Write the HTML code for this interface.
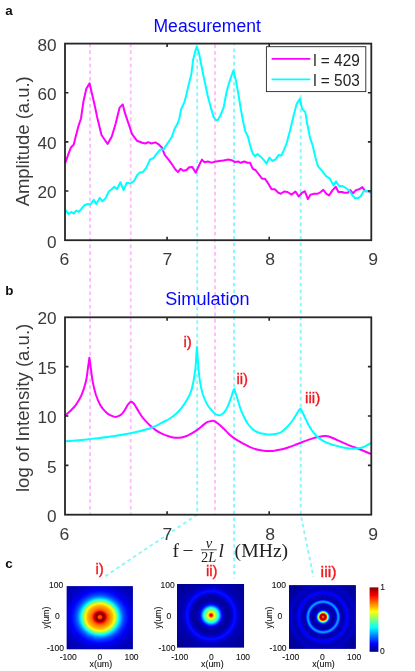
<!DOCTYPE html>
<html><head><meta charset="utf-8"><title>Figure</title>
<style>html,body{margin:0;padding:0;background:#fff}svg{display:block}</style>
</head><body>
<svg width="415" height="671" viewBox="0 0 415 671">
<rect width="415" height="671" fill="#fff"/>
<line x1="90.1" y1="43.6" x2="90.1" y2="514.7" stroke-dashoffset="0" stroke="#ffb9fc" stroke-width="1.8" stroke-dasharray="3.6 3.1" fill="none"/>
<line x1="130.7" y1="43.6" x2="130.7" y2="514.7" stroke-dashoffset="0" stroke="#ffb9fc" stroke-width="1.8" stroke-dasharray="3.6 3.1" fill="none"/>
<line x1="215.0" y1="43.6" x2="215.0" y2="514.7" stroke-dashoffset="-0.8" stroke="#ffb9fc" stroke-width="1.8" stroke-dasharray="3.6 3.1" fill="none"/>
<polyline points="197.2,43.6 197.2,514.7 104,577" stroke="#86f6f9" stroke-width="1.8" stroke-dasharray="3.6 3.1" stroke-dashoffset="4.8" fill="none"/>
<polyline points="234.1,43.6 234.1,514.7 234.3,578.6" stroke="#86f6f9" stroke-width="1.8" stroke-dasharray="3.6 3.1" stroke-dashoffset="1.9" fill="none"/>
<polyline points="300.7,93.2 300.7,514.7 313.4,577" stroke="#86f6f9" stroke-width="1.8" stroke-dasharray="3.6 3.1" stroke-dashoffset="4.6" fill="none"/>
<polyline points="65.3,162.8 69.0,152.3 71.1,147.2 73.7,144.8 75.2,138.6 78.4,126.3 81.0,118.5 83.4,101.7 86.3,88.7 89.6,83.4 92.8,97.3 95.0,106.7 97.1,116.9 101.5,135.0 107.6,144.0 111.7,136.7 115.7,123.5 119.6,107.6 122.8,104.4 124.9,112.9 128.9,124.8 132.1,134.1 136.9,140.7 142.2,142.8 145.3,143.5 148.3,142.2 151.4,143.5 155.4,142.4 158.6,144.3 162.0,147.7 164.7,154.9 168.0,158.9 171.9,164.2 175.4,169.5 178.0,172.1 180.7,168.7 183.3,170.8 186.5,170.0 189.2,167.3 192.3,167.1 195.8,172.6 199.0,165.5 201.9,159.6 204.5,162.3 207.7,161.5 211.7,162.6 215.7,161.5 219.6,161.0 223.6,160.4 228.4,159.6 231.6,160.2 235.0,162.0 238.2,161.5 240.8,162.8 244.3,161.5 247.5,162.8 250.1,162.8 252.8,168.9 255.4,170.0 258.6,174.0 262.0,178.7 264.7,178.7 267.7,182.7 271.6,189.3 274.8,189.3 278.3,192.8 280.9,193.8 284.1,191.5 287.5,192.0 291.5,194.6 295.5,191.5 298.7,196.5 302.1,192.8 304.8,191.2 307.9,199.1 310.6,194.6 314.0,193.8 317.5,193.8 320.7,192.0 323.3,189.9 326.5,193.8 329.1,195.4 332.6,190.1 335.8,186.7 338.4,192.0 341.9,192.0 344.5,192.8 347.7,192.8 350.3,190.1 353.0,193.3 355.9,190.1 359.1,189.3 362.3,187.2 365.2,191.2 368.4,191.2 371.0,192.8" fill="none" stroke="#ff00ff" stroke-width="2" stroke-linejoin="round"/>
<polyline points="65.3,210.0 68.7,214.0 71.1,211.9 73.8,213.5 76.4,210.5 78.6,211.9 81.2,209.2 84.4,205.2 87.8,203.9 90.5,204.4 93.7,199.9 96.3,203.9 99.8,197.8 102.4,201.3 105.6,198.1 109.0,191.2 111.7,189.3 114.3,186.7 117.0,189.3 120.4,182.2 123.6,190.1 126.8,182.7 130.2,183.5 133.7,181.4 137.4,174.8 140.0,172.6 142.7,172.1 146.1,168.1 150.1,159.4 153.3,158.3 156.7,153.6 160.2,149.6 163.4,149.6 166.0,145.6 169.3,140.7 171.9,136.7 174.6,128.8 177.2,124.3 179.1,119.5 181.2,108.9 184.4,102.3 186.5,94.3 189.2,82.4 191.3,74.5 193.1,59.9 195.0,51.9 196.8,46.6 199.0,53.3 201.6,66.5 204.3,79.8 207.7,95.7 211.2,108.9 213.8,117.4 215.7,120.0 217.8,120.0 220.4,115.5 223.6,107.6 226.3,93.0 228.4,85.1 231.0,77.1 233.4,70.5 235.5,78.4 238.2,93.0 240.8,108.9 243.5,123.5 245.3,131.4 248.0,136.7 250.1,145.6 252.8,153.6 254.9,156.2 257.5,154.1 260.7,156.7 263.9,160.2 266.5,163.6 268.7,158.9 269.5,157.5 272.2,161.0 275.6,159.4 278.8,154.9 281.4,155.7 284.1,149.6 286.7,143.0 290.2,130.1 293.6,115.5 296.8,103.6 300.0,98.8 302.1,108.9 305.3,112.1 307.4,124.8 310.1,138.1 312.7,145.6 315.4,157.5 318.0,166.3 322.0,170.8 326.0,176.1 329.9,178.7 333.4,185.4 336.0,181.4 339.2,186.2 342.4,185.9 345.8,188.0 349.3,190.7 352.5,195.4 355.1,198.1 358.3,198.1 360.9,196.0 363.6,191.2 367.0,190.7 371.0,192.0" fill="none" stroke="#00ffff" stroke-width="2" stroke-linejoin="round"/>
<path d="M65.3 415.4C66.2 414.6 68.8 412.4 70.6 410.7C72.4 408.9 74.1 407.5 75.9 404.9C77.7 402.2 79.9 398.7 81.6 394.8C83.3 390.9 84.8 386.2 85.9 381.6C87.0 377.0 87.5 371.0 88.1 367.0C88.7 363.0 89.2 359.2 89.4 357.7C89.6 359.2 90.2 363.0 90.7 367.0C91.2 371.0 91.8 377.0 92.7 381.6C93.6 386.2 94.7 390.9 95.9 394.8C97.2 398.7 98.6 402.0 100.2 404.9C101.8 407.8 104.1 410.2 105.8 412.0C107.5 413.8 109.0 414.6 110.6 415.4C112.2 416.2 114.1 416.8 115.6 416.9C117.1 416.9 118.3 416.2 119.4 415.7C120.5 415.1 121.3 414.6 122.2 413.6C123.1 412.7 123.9 411.5 124.8 410.0C125.7 408.5 127.0 406.1 127.8 404.8C128.6 403.5 129.2 402.9 129.8 402.4C130.4 401.9 130.9 401.6 131.4 401.7C131.9 401.8 132.4 402.2 133.0 402.8C133.6 403.4 134.3 404.1 135.0 405.2C135.7 406.3 136.4 407.8 137.4 409.4C138.4 411.0 139.6 413.2 140.8 415.0C142.0 416.8 143.2 418.4 144.8 420.1C146.4 421.8 148.3 423.8 150.1 425.4C151.9 427.0 153.6 428.6 155.4 429.9C157.2 431.2 158.9 432.3 160.7 433.2C162.5 434.1 164.1 434.7 166.0 435.4C167.9 436.1 169.8 436.8 171.9 437.2C174.0 437.6 176.4 437.9 178.6 437.8C180.8 437.7 183.0 437.2 185.2 436.5C187.4 435.8 189.6 434.5 191.8 433.3C194.0 432.1 196.4 430.6 198.4 429.1C200.4 427.7 202.1 425.8 203.7 424.6C205.2 423.4 206.4 422.5 207.7 421.9C209.0 421.3 210.6 421.0 211.7 420.9C212.8 420.8 213.2 420.6 214.3 421.1C215.4 421.6 216.8 422.6 218.3 423.8C219.9 425.1 221.8 426.9 223.6 428.6C225.4 430.3 226.9 432.1 228.9 433.9C230.9 435.7 233.3 437.7 235.5 439.2C237.7 440.7 239.8 441.8 242.2 443.1C244.6 444.4 247.4 446.0 250.1 447.1C252.8 448.2 255.5 449.2 258.1 449.8C260.8 450.4 263.5 450.8 266.0 451.0C268.5 451.2 270.5 451.1 273.0 450.9C275.5 450.7 278.2 450.2 280.9 449.6C283.5 449.0 286.2 448.1 288.9 447.2C291.5 446.3 294.1 445.3 296.8 444.3C299.5 443.3 302.2 442.1 304.8 441.1C307.4 440.1 310.3 439.1 312.7 438.4C315.1 437.7 317.4 437.2 319.3 436.8C321.2 436.4 322.6 436.1 324.0 436.0C325.4 435.9 326.4 435.8 328.0 436.2C329.6 436.6 331.6 437.5 333.9 438.5C336.2 439.5 339.2 441.0 341.9 442.2C344.5 443.4 347.1 444.6 349.8 445.6C352.5 446.7 355.2 447.5 357.8 448.5C360.4 449.5 363.5 450.8 365.7 451.7C367.9 452.6 370.1 453.6 371.0 454.0" fill="none" stroke="#ff00ff" stroke-width="2" stroke-linejoin="round"/>
<path d="M65.3 441.3C67.1 441.2 72.4 440.8 75.9 440.5C79.4 440.2 82.5 439.8 86.5 439.4C90.5 439.0 95.4 438.4 99.8 437.9C104.2 437.4 108.6 436.9 113.0 436.3C117.4 435.7 121.9 435.0 126.3 434.1C130.7 433.2 135.5 432.2 139.5 431.2C143.5 430.2 147.0 429.3 150.1 428.2C153.2 427.1 155.6 426.0 158.1 424.8C160.6 423.6 163.2 422.1 165.3 421.0C167.4 419.9 168.8 419.2 170.6 418.0C172.4 416.8 174.1 415.5 175.9 413.9C177.7 412.3 179.4 410.6 181.2 408.4C183.0 406.2 184.9 403.3 186.5 400.6C188.1 397.9 189.7 395.4 190.8 392.2C192.0 389.0 192.6 385.6 193.4 381.6C194.2 377.6 194.9 372.7 195.4 368.3C195.9 363.9 196.1 358.6 196.3 355.1C196.6 351.6 196.8 348.4 196.9 347.1C197.0 348.7 197.3 352.6 197.6 356.4C197.9 360.1 198.2 365.2 198.6 369.6C199.0 374.0 199.5 378.9 200.2 382.9C200.9 386.9 201.5 390.0 202.6 393.5C203.7 397.0 205.5 401.3 207.0 404.1C208.5 406.9 210.5 408.9 211.7 410.4C212.9 411.9 213.4 412.5 214.3 413.2C215.2 413.9 216.1 414.4 217.0 414.8C217.9 415.2 218.7 415.4 219.6 415.3C220.5 415.2 221.4 414.7 222.3 414.0C223.2 413.3 224.0 412.5 224.9 411.3C225.8 410.1 226.6 408.9 227.6 406.7C228.6 404.4 230.1 400.3 231.0 397.8C231.9 395.3 232.4 393.3 232.9 391.8C233.4 390.3 234.0 389.5 234.2 389.0C234.5 389.9 235.3 392.1 236.0 394.2C236.7 396.3 237.4 398.8 238.2 401.4C239.0 404.0 239.9 407.2 240.8 409.6C241.7 412.0 242.4 413.7 243.5 416.0C244.6 418.3 246.2 421.3 247.5 423.3C248.8 425.3 250.1 426.7 251.4 428.0C252.7 429.3 253.9 430.3 255.4 431.2C256.9 432.1 258.9 432.8 260.7 433.3C262.5 433.8 264.4 434.1 266.0 434.3C267.6 434.5 268.7 434.6 270.3 434.5C271.9 434.4 273.8 434.3 275.6 433.9C277.4 433.5 279.1 433.3 280.9 432.3C282.7 431.3 284.4 429.5 286.2 427.8C288.0 426.1 289.9 424.0 291.5 422.0C293.1 420.0 294.4 417.6 295.5 415.8C296.6 414.1 297.3 412.7 298.1 411.5C298.9 410.3 299.9 409.2 300.3 408.7C300.6 409.1 301.4 410.0 302.1 411.4C302.9 412.8 303.7 414.9 304.8 417.2C305.9 419.5 307.2 422.5 308.7 425.2C310.2 427.9 312.2 430.9 314.0 433.1C315.8 435.3 317.3 436.8 319.3 438.4C321.3 439.9 323.6 441.3 326.0 442.4C328.4 443.5 331.2 444.3 333.9 445.1C336.5 445.9 339.2 446.6 341.9 447.2C344.5 447.8 347.4 448.3 349.8 448.5C352.2 448.7 354.2 448.7 356.4 448.5C358.6 448.3 361.1 447.9 363.1 447.2C365.1 446.5 367.1 445.2 368.4 444.5C369.7 443.8 370.6 443.2 371.0 443.0" fill="none" stroke="#00ffff" stroke-width="2" stroke-linejoin="round"/>
<rect x="65.0" y="43.6" width="306.3" height="196.6" fill="none" stroke="#262626" stroke-width="1.8"/>
<path d="M167.10000000000002 43.6v3.4M167.10000000000002 240.2v-3.4" stroke="#262626" stroke-width="1.6"/>
<path d="M269.20000000000005 43.6v3.4M269.20000000000005 240.2v-3.4" stroke="#262626" stroke-width="1.6"/>
<path d="M65.0 191.05h3.4M371.3 191.05h-3.4" stroke="#262626" stroke-width="1.6"/>
<path d="M65.0 141.90h3.4M371.3 141.90h-3.4" stroke="#262626" stroke-width="1.6"/>
<path d="M65.0 92.75h3.4M371.3 92.75h-3.4" stroke="#262626" stroke-width="1.6"/>
<rect x="65.0" y="317.3" width="306.3" height="197.40000000000003" fill="none" stroke="#262626" stroke-width="1.8"/>
<path d="M167.10000000000002 317.3v3.4M167.10000000000002 514.7v-3.4" stroke="#262626" stroke-width="1.6"/>
<path d="M269.20000000000005 317.3v3.4M269.20000000000005 514.7v-3.4" stroke="#262626" stroke-width="1.6"/>
<path d="M65.0 465.35h3.4M371.3 465.35h-3.4" stroke="#262626" stroke-width="1.6"/>
<path d="M65.0 416.00h3.4M371.3 416.00h-3.4" stroke="#262626" stroke-width="1.6"/>
<path d="M65.0 366.65h3.4M371.3 366.65h-3.4" stroke="#262626" stroke-width="1.6"/>
<text x="56.7" y="247.6" text-anchor="end" font-family="Liberation Sans, Arial, sans-serif" font-size="16" fill="#3a3a3a" transform="translate(56.7 0) scale(1.075 1) translate(-56.7 0)">0</text>
<text x="56.7" y="198.3" text-anchor="end" font-family="Liberation Sans, Arial, sans-serif" font-size="16" fill="#3a3a3a" transform="translate(56.7 0) scale(1.075 1) translate(-56.7 0)">20</text>
<text x="56.7" y="149.1" text-anchor="end" font-family="Liberation Sans, Arial, sans-serif" font-size="16" fill="#3a3a3a" transform="translate(56.7 0) scale(1.075 1) translate(-56.7 0)">40</text>
<text x="56.7" y="99.8" text-anchor="end" font-family="Liberation Sans, Arial, sans-serif" font-size="16" fill="#3a3a3a" transform="translate(56.7 0) scale(1.075 1) translate(-56.7 0)">60</text>
<text x="56.7" y="50.6" text-anchor="end" font-family="Liberation Sans, Arial, sans-serif" font-size="16" fill="#3a3a3a" transform="translate(56.7 0) scale(1.075 1) translate(-56.7 0)">80</text>
<text x="64.4" y="265.1" text-anchor="middle" font-family="Liberation Sans, Arial, sans-serif" font-size="16" fill="#3a3a3a" transform="translate(64.4 0) scale(1.1 1) translate(-64.4 0)">6</text>
<text x="167.3" y="265.1" text-anchor="middle" font-family="Liberation Sans, Arial, sans-serif" font-size="16" fill="#3a3a3a" transform="translate(167.3 0) scale(1.1 1) translate(-167.3 0)">7</text>
<text x="270.20000000000005" y="265.1" text-anchor="middle" font-family="Liberation Sans, Arial, sans-serif" font-size="16" fill="#3a3a3a" transform="translate(270.20000000000005 0) scale(1.1 1) translate(-270.20000000000005 0)">8</text>
<text x="373.1" y="265.1" text-anchor="middle" font-family="Liberation Sans, Arial, sans-serif" font-size="16" fill="#3a3a3a" transform="translate(373.1 0) scale(1.1 1) translate(-373.1 0)">9</text>
<text x="56.7" y="522.3" text-anchor="end" font-family="Liberation Sans, Arial, sans-serif" font-size="16" fill="#3a3a3a" transform="translate(56.7 0) scale(1.075 1) translate(-56.7 0)">0</text>
<text x="56.7" y="472.7" text-anchor="end" font-family="Liberation Sans, Arial, sans-serif" font-size="16" fill="#3a3a3a" transform="translate(56.7 0) scale(1.075 1) translate(-56.7 0)">5</text>
<text x="56.7" y="423.2" text-anchor="end" font-family="Liberation Sans, Arial, sans-serif" font-size="16" fill="#3a3a3a" transform="translate(56.7 0) scale(1.075 1) translate(-56.7 0)">10</text>
<text x="56.7" y="373.6" text-anchor="end" font-family="Liberation Sans, Arial, sans-serif" font-size="16" fill="#3a3a3a" transform="translate(56.7 0) scale(1.075 1) translate(-56.7 0)">15</text>
<text x="56.7" y="324.0" text-anchor="end" font-family="Liberation Sans, Arial, sans-serif" font-size="16" fill="#3a3a3a" transform="translate(56.7 0) scale(1.075 1) translate(-56.7 0)">20</text>
<text x="64.4" y="539.6" text-anchor="middle" font-family="Liberation Sans, Arial, sans-serif" font-size="16" fill="#3a3a3a" transform="translate(64.4 0) scale(1.1 1) translate(-64.4 0)">6</text>
<text x="167.3" y="539.6" text-anchor="middle" font-family="Liberation Sans, Arial, sans-serif" font-size="16" fill="#3a3a3a" transform="translate(167.3 0) scale(1.1 1) translate(-167.3 0)">7</text>
<text x="270.20000000000005" y="539.6" text-anchor="middle" font-family="Liberation Sans, Arial, sans-serif" font-size="16" fill="#3a3a3a" transform="translate(270.20000000000005 0) scale(1.1 1) translate(-270.20000000000005 0)">8</text>
<text x="373.1" y="539.6" text-anchor="middle" font-family="Liberation Sans, Arial, sans-serif" font-size="16" fill="#3a3a3a" transform="translate(373.1 0) scale(1.1 1) translate(-373.1 0)">9</text>
<text transform="translate(28.9 141.3) rotate(-90)" text-anchor="middle" textLength="130" lengthAdjust="spacingAndGlyphs" font-family="Liberation Sans, Arial, sans-serif" font-size="17.6" fill="#3a3a3a">Amplitude (a.u.)</text>
<text transform="translate(28.9 407.9) rotate(-90)" text-anchor="middle" textLength="168.3" lengthAdjust="spacingAndGlyphs" font-family="Liberation Sans, Arial, sans-serif" font-size="17.6" fill="#3a3a3a">log of Intensity (a.u.)</text>
<text x="153.5" y="31.8" textLength="107.3" lengthAdjust="spacingAndGlyphs" font-family="Liberation Sans, Arial, sans-serif" font-size="18.7" fill="#0606ff">Measurement</text>
<text x="165.3" y="304.6" textLength="84.3" lengthAdjust="spacingAndGlyphs" font-family="Liberation Sans, Arial, sans-serif" font-size="18.7" fill="#0606ff">Simulation</text>
<text x="5.2" y="14.7" font-family="Liberation Sans, Arial, sans-serif" font-size="13.4" font-weight="bold" fill="#111">a</text>
<text x="5.3" y="294.6" font-family="Liberation Sans, Arial, sans-serif" font-size="13.4" font-weight="bold" fill="#111">b</text>
<text x="5.2" y="568.4" font-family="Liberation Sans, Arial, sans-serif" font-size="13.4" font-weight="bold" fill="#111">c</text>
<rect x="266.4" y="46.7" width="99.4" height="44.9" fill="#fff" stroke="#262626" stroke-width="0.9"/>
<line x1="271.6" y1="58.9" x2="310.3" y2="58.9" stroke="#ff00ff" stroke-width="1.6"/>
<line x1="271.6" y1="79.4" x2="310.3" y2="79.4" stroke="#00ffff" stroke-width="1.6"/>
<text x="313.2" y="65.8" textLength="46.6" lengthAdjust="spacingAndGlyphs" font-family="Liberation Sans, Arial, sans-serif" font-size="15.6" fill="#222">l = 429</text>
<text x="313.2" y="86.0" textLength="46.6" lengthAdjust="spacingAndGlyphs" font-family="Liberation Sans, Arial, sans-serif" font-size="15.6" fill="#222">l = 503</text>
<text x="183.4" y="347" font-family="Liberation Sans, Arial, sans-serif" font-size="15" fill="#f2161c" stroke="#f2161c" stroke-width="0.35">i)</text>
<text x="236.4" y="384" textLength="11.6" lengthAdjust="spacingAndGlyphs" font-family="Liberation Sans, Arial, sans-serif" font-size="15" fill="#f2161c" stroke="#f2161c" stroke-width="0.35">ii)</text>
<text x="305" y="403" textLength="15.2" lengthAdjust="spacingAndGlyphs" font-family="Liberation Sans, Arial, sans-serif" font-size="15" fill="#f2161c" stroke="#f2161c" stroke-width="0.35">iii)</text>
<text x="95.4" y="573.6" font-family="Liberation Sans, Arial, sans-serif" font-size="15" fill="#f2161c" stroke="#f2161c" stroke-width="0.35">i)</text>
<text x="206" y="576.2" textLength="11.6" lengthAdjust="spacingAndGlyphs" font-family="Liberation Sans, Arial, sans-serif" font-size="15" fill="#f2161c" stroke="#f2161c" stroke-width="0.35">ii)</text>
<text x="320.6" y="576.8" textLength="15.9" lengthAdjust="spacingAndGlyphs" font-family="Liberation Sans, Arial, sans-serif" font-size="15" fill="#f2161c" stroke="#f2161c" stroke-width="0.35">iii)</text>
<text x="172.6" y="556.8" font-size="19.5" font-family="Liberation Serif, Times New Roman, serif" fill="#222">f</text>
<text x="182.6" y="556.8" font-size="19.5" font-family="Liberation Serif, Times New Roman, serif" fill="#222">−</text>
<text x="208.9" y="547.9" font-size="14.5" font-style="italic" text-anchor="middle" textLength="6.4" lengthAdjust="spacingAndGlyphs" font-family="Liberation Serif, Times New Roman, serif" fill="#222">v</text>
<line x1="200.9" y1="549.8" x2="216.8" y2="549.8" stroke="#222" stroke-width="0.8"/>
<text x="208.8" y="562.0" font-size="14.5" text-anchor="middle" textLength="15.4" lengthAdjust="spacingAndGlyphs" font-family="Liberation Serif, Times New Roman, serif" fill="#222">2<tspan font-style="italic">L</tspan></text>
<text x="218.6" y="556.8" font-size="19.5" font-style="italic" font-family="Liberation Serif, Times New Roman, serif" fill="#222">l</text>
<text x="234.6" y="556.8" font-size="19.5" textLength="53.6" lengthAdjust="spacingAndGlyphs" font-family="Liberation Serif, Times New Roman, serif" fill="#222">(MHz)</text>
<defs><radialGradient id="g1" gradientUnits="userSpaceOnUse" cx="0" cy="0" r="60"><stop offset="0.0000" stop-color="#ff6100"/><stop offset="0.0083" stop-color="#ff5a00"/><stop offset="0.0167" stop-color="#ff5400"/><stop offset="0.0250" stop-color="#ff4d00"/><stop offset="0.0333" stop-color="#ff0600"/><stop offset="0.0417" stop-color="#b30000"/><stop offset="0.0500" stop-color="#940000"/><stop offset="0.0583" stop-color="#830000"/><stop offset="0.0667" stop-color="#8f0000"/><stop offset="0.0750" stop-color="#9b0000"/><stop offset="0.0833" stop-color="#bb0000"/><stop offset="0.0917" stop-color="#e10000"/><stop offset="0.1000" stop-color="#ff0600"/><stop offset="0.1083" stop-color="#ff2900"/><stop offset="0.1167" stop-color="#ff4700"/><stop offset="0.1250" stop-color="#ff5800"/><stop offset="0.1333" stop-color="#ff6900"/><stop offset="0.1417" stop-color="#ff7a00"/><stop offset="0.1500" stop-color="#ff8300"/><stop offset="0.1583" stop-color="#ff8c00"/><stop offset="0.1667" stop-color="#ff9600"/><stop offset="0.1750" stop-color="#ffa000"/><stop offset="0.1833" stop-color="#ffab00"/><stop offset="0.1917" stop-color="#ffb700"/><stop offset="0.2000" stop-color="#ffc600"/><stop offset="0.2083" stop-color="#ffd800"/><stop offset="0.2167" stop-color="#ffea00"/><stop offset="0.2250" stop-color="#fffe00"/><stop offset="0.2333" stop-color="#e7ff18"/><stop offset="0.2417" stop-color="#cdff32"/><stop offset="0.2500" stop-color="#b0ff4f"/><stop offset="0.2583" stop-color="#8fff70"/><stop offset="0.2667" stop-color="#6eff91"/><stop offset="0.2750" stop-color="#4dffb2"/><stop offset="0.2833" stop-color="#2affd5"/><stop offset="0.2917" stop-color="#07fff8"/><stop offset="0.3000" stop-color="#00ecff"/><stop offset="0.3083" stop-color="#00d4ff"/><stop offset="0.3167" stop-color="#00bcff"/><stop offset="0.3250" stop-color="#00a6ff"/><stop offset="0.3333" stop-color="#0090ff"/><stop offset="0.3417" stop-color="#007cff"/><stop offset="0.3500" stop-color="#006cff"/><stop offset="0.3583" stop-color="#005dff"/><stop offset="0.3667" stop-color="#004eff"/><stop offset="0.3750" stop-color="#0042ff"/><stop offset="0.3833" stop-color="#0039ff"/><stop offset="0.3917" stop-color="#0030ff"/><stop offset="0.4000" stop-color="#0027ff"/><stop offset="0.4083" stop-color="#001eff"/><stop offset="0.4167" stop-color="#0014ff"/><stop offset="0.4250" stop-color="#000eff"/><stop offset="0.4333" stop-color="#0008ff"/><stop offset="0.4417" stop-color="#0001ff"/><stop offset="0.4500" stop-color="#0000fa"/><stop offset="0.4583" stop-color="#0000f3"/><stop offset="0.4667" stop-color="#0000ed"/><stop offset="0.4750" stop-color="#0000e8"/><stop offset="0.4833" stop-color="#0000e3"/><stop offset="0.4917" stop-color="#0000de"/><stop offset="0.5000" stop-color="#0000d9"/><stop offset="0.5083" stop-color="#0000d4"/><stop offset="0.5167" stop-color="#0000d1"/><stop offset="0.5250" stop-color="#0000cf"/><stop offset="0.5333" stop-color="#0000cc"/><stop offset="0.5417" stop-color="#0000ca"/><stop offset="0.5500" stop-color="#0000c8"/><stop offset="0.5583" stop-color="#0000c5"/><stop offset="0.5667" stop-color="#0000c3"/><stop offset="0.5750" stop-color="#0000c1"/><stop offset="0.5833" stop-color="#0000be"/><stop offset="0.5917" stop-color="#0000bc"/><stop offset="0.6000" stop-color="#0000b9"/><stop offset="0.6083" stop-color="#0000b7"/><stop offset="0.6167" stop-color="#0000b5"/><stop offset="0.6250" stop-color="#0000b4"/><stop offset="0.6333" stop-color="#0000b2"/><stop offset="0.6417" stop-color="#0000b1"/><stop offset="0.6500" stop-color="#0000b0"/><stop offset="0.6583" stop-color="#0000af"/><stop offset="0.6667" stop-color="#0000ae"/><stop offset="0.6750" stop-color="#0000ad"/><stop offset="0.6833" stop-color="#0000ac"/><stop offset="0.6917" stop-color="#0000ab"/><stop offset="0.7000" stop-color="#0000aa"/><stop offset="0.7083" stop-color="#0000a9"/><stop offset="0.7167" stop-color="#0000a7"/><stop offset="0.7250" stop-color="#0000a6"/><stop offset="0.7333" stop-color="#0000a5"/><stop offset="0.7417" stop-color="#0000a4"/><stop offset="0.7500" stop-color="#0000a4"/><stop offset="0.7583" stop-color="#0000a4"/><stop offset="0.7667" stop-color="#0000a3"/><stop offset="0.7750" stop-color="#0000a3"/><stop offset="0.7833" stop-color="#0000a3"/><stop offset="0.7917" stop-color="#0000a3"/><stop offset="0.8000" stop-color="#0000a2"/><stop offset="0.8083" stop-color="#0000a2"/><stop offset="0.8167" stop-color="#0000a2"/><stop offset="0.8250" stop-color="#0000a1"/><stop offset="0.8333" stop-color="#0000a1"/><stop offset="0.8417" stop-color="#0000a1"/><stop offset="0.8500" stop-color="#0000a1"/><stop offset="0.8583" stop-color="#0000a0"/><stop offset="0.8667" stop-color="#0000a0"/><stop offset="0.8750" stop-color="#0000a0"/><stop offset="0.8833" stop-color="#0000a0"/><stop offset="0.8917" stop-color="#00009f"/><stop offset="0.9000" stop-color="#00009f"/><stop offset="0.9083" stop-color="#00009f"/><stop offset="0.9167" stop-color="#00009e"/><stop offset="0.9250" stop-color="#00009e"/><stop offset="0.9333" stop-color="#00009e"/><stop offset="0.9417" stop-color="#00009e"/><stop offset="0.9500" stop-color="#00009e"/><stop offset="0.9583" stop-color="#00009e"/><stop offset="0.9667" stop-color="#00009e"/><stop offset="0.9750" stop-color="#00009e"/><stop offset="0.9833" stop-color="#00009e"/><stop offset="0.9917" stop-color="#00009e"/><stop offset="1.0000" stop-color="#00009e"/></radialGradient><radialGradient id="g2" gradientUnits="userSpaceOnUse" cx="0" cy="0" r="60"><stop offset="0.0000" stop-color="#b30000"/><stop offset="0.0067" stop-color="#c70000"/><stop offset="0.0133" stop-color="#db0000"/><stop offset="0.0200" stop-color="#ff0500"/><stop offset="0.0267" stop-color="#ff4200"/><stop offset="0.0333" stop-color="#ff7900"/><stop offset="0.0400" stop-color="#ffaa00"/><stop offset="0.0467" stop-color="#ffdb00"/><stop offset="0.0533" stop-color="#fffc00"/><stop offset="0.0600" stop-color="#e1ff1e"/><stop offset="0.0667" stop-color="#c7ff38"/><stop offset="0.0733" stop-color="#b2ff4d"/><stop offset="0.0800" stop-color="#9eff61"/><stop offset="0.0867" stop-color="#8bff74"/><stop offset="0.0933" stop-color="#7aff85"/><stop offset="0.1000" stop-color="#69ff96"/><stop offset="0.1067" stop-color="#55ffaa"/><stop offset="0.1133" stop-color="#3cffc3"/><stop offset="0.1200" stop-color="#24ffdb"/><stop offset="0.1267" stop-color="#03fffc"/><stop offset="0.1333" stop-color="#00e1ff"/><stop offset="0.1400" stop-color="#00bfff"/><stop offset="0.1467" stop-color="#009aff"/><stop offset="0.1533" stop-color="#0075ff"/><stop offset="0.1600" stop-color="#0059ff"/><stop offset="0.1667" stop-color="#003dff"/><stop offset="0.1733" stop-color="#0021ff"/><stop offset="0.1800" stop-color="#000dff"/><stop offset="0.1867" stop-color="#0000fb"/><stop offset="0.1933" stop-color="#0000ea"/><stop offset="0.2000" stop-color="#0000d9"/><stop offset="0.2067" stop-color="#0000ca"/><stop offset="0.2133" stop-color="#0000c2"/><stop offset="0.2200" stop-color="#0000b9"/><stop offset="0.2267" stop-color="#0000b1"/><stop offset="0.2333" stop-color="#0000a8"/><stop offset="0.2400" stop-color="#0000a6"/><stop offset="0.2467" stop-color="#0000a3"/><stop offset="0.2533" stop-color="#0000a1"/><stop offset="0.2600" stop-color="#00009f"/><stop offset="0.2667" stop-color="#00009c"/><stop offset="0.2733" stop-color="#00009d"/><stop offset="0.2800" stop-color="#00009d"/><stop offset="0.2867" stop-color="#00009e"/><stop offset="0.2933" stop-color="#00009e"/><stop offset="0.3000" stop-color="#0000a0"/><stop offset="0.3067" stop-color="#0000a1"/><stop offset="0.3133" stop-color="#0000a4"/><stop offset="0.3200" stop-color="#0000a7"/><stop offset="0.3267" stop-color="#0000ac"/><stop offset="0.3333" stop-color="#0000b3"/><stop offset="0.3400" stop-color="#0000bb"/><stop offset="0.3467" stop-color="#0000c5"/><stop offset="0.3533" stop-color="#0000d0"/><stop offset="0.3600" stop-color="#0000dc"/><stop offset="0.3667" stop-color="#0000e9"/><stop offset="0.3733" stop-color="#0000f4"/><stop offset="0.3800" stop-color="#0000ff"/><stop offset="0.3867" stop-color="#0008ff"/><stop offset="0.3933" stop-color="#000dff"/><stop offset="0.4000" stop-color="#000fff"/><stop offset="0.4067" stop-color="#000dff"/><stop offset="0.4133" stop-color="#0008ff"/><stop offset="0.4200" stop-color="#0000ff"/><stop offset="0.4267" stop-color="#0000f6"/><stop offset="0.4333" stop-color="#0000eb"/><stop offset="0.4400" stop-color="#0000e0"/><stop offset="0.4467" stop-color="#0000d6"/><stop offset="0.4533" stop-color="#0000cd"/><stop offset="0.4600" stop-color="#0000c6"/><stop offset="0.4667" stop-color="#0000c0"/><stop offset="0.4733" stop-color="#0000bc"/><stop offset="0.4800" stop-color="#0000b9"/><stop offset="0.4867" stop-color="#0000b7"/><stop offset="0.4933" stop-color="#0000b4"/><stop offset="0.5000" stop-color="#0000b2"/><stop offset="0.5067" stop-color="#0000b1"/><stop offset="0.5133" stop-color="#0000af"/><stop offset="0.5200" stop-color="#0000ae"/><stop offset="0.5267" stop-color="#0000ad"/><stop offset="0.5333" stop-color="#0000ac"/><stop offset="0.5400" stop-color="#0000ac"/><stop offset="0.5467" stop-color="#0000ab"/><stop offset="0.5533" stop-color="#0000aa"/><stop offset="0.5600" stop-color="#0000a9"/><stop offset="0.5667" stop-color="#0000a8"/><stop offset="0.5733" stop-color="#0000a7"/><stop offset="0.5800" stop-color="#0000a6"/><stop offset="0.5867" stop-color="#0000a5"/><stop offset="0.5933" stop-color="#0000a4"/><stop offset="0.6000" stop-color="#0000a3"/><stop offset="0.6067" stop-color="#0000a2"/><stop offset="0.6133" stop-color="#0000a1"/><stop offset="0.6200" stop-color="#0000a0"/><stop offset="0.6267" stop-color="#00009f"/><stop offset="0.6333" stop-color="#00009e"/><stop offset="0.6400" stop-color="#00009d"/><stop offset="0.6467" stop-color="#00009c"/><stop offset="0.6533" stop-color="#00009b"/><stop offset="0.6600" stop-color="#00009a"/><stop offset="0.6667" stop-color="#000099"/><stop offset="0.6733" stop-color="#000099"/><stop offset="0.6800" stop-color="#000099"/><stop offset="0.6867" stop-color="#000099"/><stop offset="0.6933" stop-color="#000099"/><stop offset="0.7000" stop-color="#000098"/><stop offset="0.7067" stop-color="#000098"/><stop offset="0.7133" stop-color="#000098"/><stop offset="0.7200" stop-color="#000098"/><stop offset="0.7267" stop-color="#000098"/><stop offset="0.7333" stop-color="#000098"/><stop offset="0.7400" stop-color="#000098"/><stop offset="0.7467" stop-color="#000098"/><stop offset="0.7533" stop-color="#000098"/><stop offset="0.7600" stop-color="#000098"/><stop offset="0.7667" stop-color="#000097"/><stop offset="0.7733" stop-color="#000097"/><stop offset="0.7800" stop-color="#000097"/><stop offset="0.7867" stop-color="#000097"/><stop offset="0.7933" stop-color="#000097"/><stop offset="0.8000" stop-color="#000097"/><stop offset="0.8067" stop-color="#000097"/><stop offset="0.8133" stop-color="#000097"/><stop offset="0.8200" stop-color="#000097"/><stop offset="0.8267" stop-color="#000097"/><stop offset="0.8333" stop-color="#000096"/><stop offset="0.8400" stop-color="#000096"/><stop offset="0.8467" stop-color="#000096"/><stop offset="0.8533" stop-color="#000096"/><stop offset="0.8600" stop-color="#000096"/><stop offset="0.8667" stop-color="#000096"/><stop offset="0.8733" stop-color="#000096"/><stop offset="0.8800" stop-color="#000096"/><stop offset="0.8867" stop-color="#000096"/><stop offset="0.8933" stop-color="#000096"/><stop offset="0.9000" stop-color="#000095"/><stop offset="0.9067" stop-color="#000095"/><stop offset="0.9133" stop-color="#000095"/><stop offset="0.9200" stop-color="#000095"/><stop offset="0.9267" stop-color="#000095"/><stop offset="0.9333" stop-color="#000095"/><stop offset="0.9400" stop-color="#000095"/><stop offset="0.9467" stop-color="#000095"/><stop offset="0.9533" stop-color="#000095"/><stop offset="0.9600" stop-color="#000095"/><stop offset="0.9667" stop-color="#000094"/><stop offset="0.9733" stop-color="#000094"/><stop offset="0.9800" stop-color="#000094"/><stop offset="0.9867" stop-color="#000094"/><stop offset="0.9933" stop-color="#000094"/><stop offset="1.0000" stop-color="#000094"/></radialGradient><radialGradient id="g3" gradientUnits="userSpaceOnUse" cx="0" cy="0" r="60"><stop offset="0.0000" stop-color="#ff6100"/><stop offset="0.0050" stop-color="#ff5a00"/><stop offset="0.0100" stop-color="#ff5300"/><stop offset="0.0150" stop-color="#ff4c00"/><stop offset="0.0200" stop-color="#ff1400"/><stop offset="0.0250" stop-color="#da0000"/><stop offset="0.0300" stop-color="#bd0000"/><stop offset="0.0350" stop-color="#ad0000"/><stop offset="0.0400" stop-color="#9e0000"/><stop offset="0.0450" stop-color="#b90000"/><stop offset="0.0500" stop-color="#d40000"/><stop offset="0.0550" stop-color="#fb0000"/><stop offset="0.0600" stop-color="#ff3e00"/><stop offset="0.0650" stop-color="#ff7f00"/><stop offset="0.0700" stop-color="#ffcc00"/><stop offset="0.0750" stop-color="#e6ff19"/><stop offset="0.0800" stop-color="#96ff69"/><stop offset="0.0850" stop-color="#49ffb6"/><stop offset="0.0900" stop-color="#02fffd"/><stop offset="0.0950" stop-color="#00beff"/><stop offset="0.1000" stop-color="#0085ff"/><stop offset="0.1050" stop-color="#004dff"/><stop offset="0.1100" stop-color="#002bff"/><stop offset="0.1150" stop-color="#0009ff"/><stop offset="0.1200" stop-color="#0000e6"/><stop offset="0.1250" stop-color="#0000da"/><stop offset="0.1300" stop-color="#0000ce"/><stop offset="0.1350" stop-color="#0000c2"/><stop offset="0.1400" stop-color="#0000b6"/><stop offset="0.1450" stop-color="#0000b0"/><stop offset="0.1500" stop-color="#0000ac"/><stop offset="0.1550" stop-color="#0000a8"/><stop offset="0.1600" stop-color="#0000a4"/><stop offset="0.1650" stop-color="#0000a0"/><stop offset="0.1700" stop-color="#00009e"/><stop offset="0.1750" stop-color="#00009f"/><stop offset="0.1800" stop-color="#00009f"/><stop offset="0.1850" stop-color="#0000a1"/><stop offset="0.1900" stop-color="#0000a3"/><stop offset="0.1950" stop-color="#0000a7"/><stop offset="0.2000" stop-color="#0000ad"/><stop offset="0.2050" stop-color="#0000b7"/><stop offset="0.2100" stop-color="#0000c5"/><stop offset="0.2150" stop-color="#0000d9"/><stop offset="0.2200" stop-color="#0000f2"/><stop offset="0.2250" stop-color="#0012ff"/><stop offset="0.2300" stop-color="#0033ff"/><stop offset="0.2350" stop-color="#0055ff"/><stop offset="0.2400" stop-color="#0075ff"/><stop offset="0.2450" stop-color="#008dff"/><stop offset="0.2500" stop-color="#009bff"/><stop offset="0.2550" stop-color="#009dff"/><stop offset="0.2600" stop-color="#0093ff"/><stop offset="0.2650" stop-color="#007eff"/><stop offset="0.2700" stop-color="#0060ff"/><stop offset="0.2750" stop-color="#003fff"/><stop offset="0.2800" stop-color="#001dff"/><stop offset="0.2850" stop-color="#0000fc"/><stop offset="0.2900" stop-color="#0000e1"/><stop offset="0.2950" stop-color="#0000cb"/><stop offset="0.3000" stop-color="#0000bc"/><stop offset="0.3050" stop-color="#0000b1"/><stop offset="0.3100" stop-color="#0000aa"/><stop offset="0.3150" stop-color="#0000a6"/><stop offset="0.3200" stop-color="#0000a4"/><stop offset="0.3250" stop-color="#0000a4"/><stop offset="0.3300" stop-color="#0000a5"/><stop offset="0.3350" stop-color="#0000a7"/><stop offset="0.3400" stop-color="#0000aa"/><stop offset="0.3450" stop-color="#0000af"/><stop offset="0.3500" stop-color="#0000b4"/><stop offset="0.3550" stop-color="#0000ba"/><stop offset="0.3600" stop-color="#0000c2"/><stop offset="0.3650" stop-color="#0000ca"/><stop offset="0.3700" stop-color="#0000d3"/><stop offset="0.3750" stop-color="#0000dc"/><stop offset="0.3800" stop-color="#0000e5"/><stop offset="0.3850" stop-color="#0000ee"/><stop offset="0.3900" stop-color="#0000f5"/><stop offset="0.3950" stop-color="#0000fa"/><stop offset="0.4000" stop-color="#0000fe"/><stop offset="0.4050" stop-color="#0000ff"/><stop offset="0.4100" stop-color="#0000fe"/><stop offset="0.4150" stop-color="#0000fa"/><stop offset="0.4200" stop-color="#0000f5"/><stop offset="0.4250" stop-color="#0000ee"/><stop offset="0.4300" stop-color="#0000e6"/><stop offset="0.4350" stop-color="#0000dd"/><stop offset="0.4400" stop-color="#0000d4"/><stop offset="0.4450" stop-color="#0000cb"/><stop offset="0.4500" stop-color="#0000c4"/><stop offset="0.4550" stop-color="#0000bd"/><stop offset="0.4600" stop-color="#0000b8"/><stop offset="0.4650" stop-color="#0000b4"/><stop offset="0.4700" stop-color="#0000b1"/><stop offset="0.4750" stop-color="#0000b0"/><stop offset="0.4800" stop-color="#0000af"/><stop offset="0.4850" stop-color="#0000b0"/><stop offset="0.4900" stop-color="#0000b2"/><stop offset="0.4950" stop-color="#0000b4"/><stop offset="0.5000" stop-color="#0000b7"/><stop offset="0.5050" stop-color="#0000ba"/><stop offset="0.5100" stop-color="#0000bd"/><stop offset="0.5150" stop-color="#0000c0"/><stop offset="0.5200" stop-color="#0000c3"/><stop offset="0.5250" stop-color="#0000c5"/><stop offset="0.5300" stop-color="#0000c6"/><stop offset="0.5350" stop-color="#0000c7"/><stop offset="0.5400" stop-color="#0000c7"/><stop offset="0.5450" stop-color="#0000c6"/><stop offset="0.5500" stop-color="#0000c4"/><stop offset="0.5550" stop-color="#0000c2"/><stop offset="0.5600" stop-color="#0000bf"/><stop offset="0.5650" stop-color="#0000bc"/><stop offset="0.5700" stop-color="#0000b8"/><stop offset="0.5750" stop-color="#0000b5"/><stop offset="0.5800" stop-color="#0000b1"/><stop offset="0.5850" stop-color="#0000ae"/><stop offset="0.5900" stop-color="#0000ab"/><stop offset="0.5950" stop-color="#0000a9"/><stop offset="0.6000" stop-color="#0000a6"/><stop offset="0.6050" stop-color="#0000a4"/><stop offset="0.6100" stop-color="#0000a3"/><stop offset="0.6150" stop-color="#0000a2"/><stop offset="0.6200" stop-color="#0000a1"/><stop offset="0.6250" stop-color="#0000a0"/><stop offset="0.6300" stop-color="#00009f"/><stop offset="0.6350" stop-color="#00009f"/><stop offset="0.6400" stop-color="#00009e"/><stop offset="0.6450" stop-color="#00009e"/><stop offset="0.6500" stop-color="#00009d"/><stop offset="0.6550" stop-color="#00009d"/><stop offset="0.6600" stop-color="#00009c"/><stop offset="0.6650" stop-color="#00009c"/><stop offset="0.6700" stop-color="#00009c"/><stop offset="0.6750" stop-color="#00009b"/><stop offset="0.6800" stop-color="#00009b"/><stop offset="0.6850" stop-color="#00009a"/><stop offset="0.6900" stop-color="#00009a"/><stop offset="0.6950" stop-color="#00009a"/><stop offset="0.7000" stop-color="#000099"/><stop offset="0.7050" stop-color="#000099"/><stop offset="0.7100" stop-color="#000099"/><stop offset="0.7150" stop-color="#000098"/><stop offset="0.7200" stop-color="#000098"/><stop offset="0.7250" stop-color="#000098"/><stop offset="0.7300" stop-color="#000097"/><stop offset="0.7350" stop-color="#000097"/><stop offset="0.7400" stop-color="#000097"/><stop offset="0.7450" stop-color="#000096"/><stop offset="0.7500" stop-color="#000096"/><stop offset="0.7550" stop-color="#000096"/><stop offset="0.7600" stop-color="#000096"/><stop offset="0.7650" stop-color="#000096"/><stop offset="0.7700" stop-color="#000096"/><stop offset="0.7750" stop-color="#000096"/><stop offset="0.7800" stop-color="#000096"/><stop offset="0.7850" stop-color="#000096"/><stop offset="0.7900" stop-color="#000096"/><stop offset="0.7950" stop-color="#000096"/><stop offset="0.8000" stop-color="#000096"/><stop offset="0.8050" stop-color="#000095"/><stop offset="0.8100" stop-color="#000095"/><stop offset="0.8150" stop-color="#000095"/><stop offset="0.8200" stop-color="#000095"/><stop offset="0.8250" stop-color="#000095"/><stop offset="0.8300" stop-color="#000095"/><stop offset="0.8350" stop-color="#000095"/><stop offset="0.8400" stop-color="#000095"/><stop offset="0.8450" stop-color="#000095"/><stop offset="0.8500" stop-color="#000095"/><stop offset="0.8550" stop-color="#000095"/><stop offset="0.8600" stop-color="#000095"/><stop offset="0.8650" stop-color="#000095"/><stop offset="0.8700" stop-color="#000095"/><stop offset="0.8750" stop-color="#000095"/><stop offset="0.8800" stop-color="#000095"/><stop offset="0.8850" stop-color="#000095"/><stop offset="0.8900" stop-color="#000095"/><stop offset="0.8950" stop-color="#000095"/><stop offset="0.9000" stop-color="#000095"/><stop offset="0.9050" stop-color="#000095"/><stop offset="0.9100" stop-color="#000095"/><stop offset="0.9150" stop-color="#000095"/><stop offset="0.9200" stop-color="#000095"/><stop offset="0.9250" stop-color="#000095"/><stop offset="0.9300" stop-color="#000094"/><stop offset="0.9350" stop-color="#000094"/><stop offset="0.9400" stop-color="#000094"/><stop offset="0.9450" stop-color="#000094"/><stop offset="0.9500" stop-color="#000094"/><stop offset="0.9550" stop-color="#000094"/><stop offset="0.9600" stop-color="#000094"/><stop offset="0.9650" stop-color="#000094"/><stop offset="0.9700" stop-color="#000094"/><stop offset="0.9750" stop-color="#000094"/><stop offset="0.9800" stop-color="#000094"/><stop offset="0.9850" stop-color="#000094"/><stop offset="0.9900" stop-color="#000094"/><stop offset="0.9950" stop-color="#000094"/><stop offset="1.0000" stop-color="#000094"/></radialGradient></defs>
<clipPath id="cp1"><rect x="66.7" y="586.2" width="66.1" height="63.0"/></clipPath>
<g clip-path="url(#cp1)"><rect x="66.7" y="586.2" width="66.1" height="63.0" fill="#0000a8"/><g transform="translate(99.9 617.1) scale(1.080 1)"><circle r="70" fill="url(#g1)"/></g></g>
<g transform="translate(0 0)">
<text x="63.3" y="588.4" text-anchor="end" font-family="Liberation Sans, Arial, sans-serif" font-size="8.5" fill="#111" stroke="#111" stroke-width="0.1">100</text>
<text x="57.3" y="618.8" text-anchor="middle" font-family="Liberation Sans, Arial, sans-serif" font-size="8.5" fill="#111" stroke="#111" stroke-width="0.1">0</text>
<text x="64.0" y="650.6" text-anchor="end" font-family="Liberation Sans, Arial, sans-serif" font-size="8.5" fill="#111" stroke="#111" stroke-width="0.1">-100</text>
<text x="68.2" y="659.7" text-anchor="middle" font-family="Liberation Sans, Arial, sans-serif" font-size="8.5" fill="#111" stroke="#111" stroke-width="0.1">-100</text>
<text x="99.85" y="659.7" text-anchor="middle" font-family="Liberation Sans, Arial, sans-serif" font-size="8.5" fill="#111" stroke="#111" stroke-width="0.1">0</text>
<text x="131.5" y="659.7" text-anchor="middle" font-family="Liberation Sans, Arial, sans-serif" font-size="8.5" fill="#111" stroke="#111" stroke-width="0.1">100</text>
<text x="100.85" y="667.4" text-anchor="middle" textLength="22.6" lengthAdjust="spacingAndGlyphs" font-family="Liberation Sans, Arial, sans-serif" font-size="8.5" fill="#111" stroke="#111" stroke-width="0.1">x(um)</text>
<text transform="translate(49.0 617.6) rotate(-90)" text-anchor="middle" textLength="22" lengthAdjust="spacingAndGlyphs" font-family="Liberation Sans, Arial, sans-serif" font-size="8.5" fill="#111" stroke="#111" stroke-width="0.1">y(um)</text>
</g>
<clipPath id="cp2"><rect x="177.0" y="584.0" width="67.05" height="63.5"/></clipPath>
<g clip-path="url(#cp2)"><rect x="177.0" y="584.0" width="67.05" height="63.5" fill="#0000a8"/><g transform="translate(211.1 615.2) scale(1.000 1)"><circle r="70" fill="url(#g2)"/></g></g>
<g transform="translate(111.5 0)">
<text x="63.3" y="588.4" text-anchor="end" font-family="Liberation Sans, Arial, sans-serif" font-size="8.5" fill="#111" stroke="#111" stroke-width="0.1">100</text>
<text x="57.3" y="618.8" text-anchor="middle" font-family="Liberation Sans, Arial, sans-serif" font-size="8.5" fill="#111" stroke="#111" stroke-width="0.1">0</text>
<text x="64.0" y="650.6" text-anchor="end" font-family="Liberation Sans, Arial, sans-serif" font-size="8.5" fill="#111" stroke="#111" stroke-width="0.1">-100</text>
<text x="68.2" y="659.7" text-anchor="middle" font-family="Liberation Sans, Arial, sans-serif" font-size="8.5" fill="#111" stroke="#111" stroke-width="0.1">-100</text>
<text x="99.85" y="659.7" text-anchor="middle" font-family="Liberation Sans, Arial, sans-serif" font-size="8.5" fill="#111" stroke="#111" stroke-width="0.1">0</text>
<text x="131.5" y="659.7" text-anchor="middle" font-family="Liberation Sans, Arial, sans-serif" font-size="8.5" fill="#111" stroke="#111" stroke-width="0.1">100</text>
<text x="100.85" y="667.4" text-anchor="middle" textLength="22.6" lengthAdjust="spacingAndGlyphs" font-family="Liberation Sans, Arial, sans-serif" font-size="8.5" fill="#111" stroke="#111" stroke-width="0.1">x(um)</text>
<text transform="translate(49.0 617.6) rotate(-90)" text-anchor="middle" textLength="22" lengthAdjust="spacingAndGlyphs" font-family="Liberation Sans, Arial, sans-serif" font-size="8.5" fill="#111" stroke="#111" stroke-width="0.1">y(um)</text>
</g>
<clipPath id="cp3"><rect x="289.0" y="585.2" width="66.8" height="63.6"/></clipPath>
<g clip-path="url(#cp3)"><rect x="289.0" y="585.2" width="66.8" height="63.6" fill="#0000a8"/><g transform="translate(323.1 617.0) scale(1.000 1)"><circle r="70" fill="url(#g3)"/></g></g>
<g transform="translate(222.6 0)">
<text x="63.3" y="588.4" text-anchor="end" font-family="Liberation Sans, Arial, sans-serif" font-size="8.5" fill="#111" stroke="#111" stroke-width="0.1">100</text>
<text x="57.3" y="618.8" text-anchor="middle" font-family="Liberation Sans, Arial, sans-serif" font-size="8.5" fill="#111" stroke="#111" stroke-width="0.1">0</text>
<text x="64.0" y="650.6" text-anchor="end" font-family="Liberation Sans, Arial, sans-serif" font-size="8.5" fill="#111" stroke="#111" stroke-width="0.1">-100</text>
<text x="68.2" y="659.7" text-anchor="middle" font-family="Liberation Sans, Arial, sans-serif" font-size="8.5" fill="#111" stroke="#111" stroke-width="0.1">-100</text>
<text x="99.85" y="659.7" text-anchor="middle" font-family="Liberation Sans, Arial, sans-serif" font-size="8.5" fill="#111" stroke="#111" stroke-width="0.1">0</text>
<text x="131.5" y="659.7" text-anchor="middle" font-family="Liberation Sans, Arial, sans-serif" font-size="8.5" fill="#111" stroke="#111" stroke-width="0.1">100</text>
<text x="100.85" y="667.4" text-anchor="middle" textLength="22.6" lengthAdjust="spacingAndGlyphs" font-family="Liberation Sans, Arial, sans-serif" font-size="8.5" fill="#111" stroke="#111" stroke-width="0.1">x(um)</text>
<text transform="translate(49.0 617.6) rotate(-90)" text-anchor="middle" textLength="22" lengthAdjust="spacingAndGlyphs" font-family="Liberation Sans, Arial, sans-serif" font-size="8.5" fill="#111" stroke="#111" stroke-width="0.1">y(um)</text>
</g>
<defs><linearGradient id="cb" x1="0" y1="1" x2="0" y2="0"><stop offset="0.0000" stop-color="#000080"/><stop offset="0.0312" stop-color="#00009f"/><stop offset="0.0625" stop-color="#0000bf"/><stop offset="0.0938" stop-color="#0000df"/><stop offset="0.1250" stop-color="#0000ff"/><stop offset="0.1562" stop-color="#0020ff"/><stop offset="0.1875" stop-color="#0040ff"/><stop offset="0.2188" stop-color="#0060ff"/><stop offset="0.2500" stop-color="#0080ff"/><stop offset="0.2812" stop-color="#009fff"/><stop offset="0.3125" stop-color="#00bfff"/><stop offset="0.3438" stop-color="#00dfff"/><stop offset="0.3750" stop-color="#00ffff"/><stop offset="0.4062" stop-color="#20ffdf"/><stop offset="0.4375" stop-color="#40ffbf"/><stop offset="0.4688" stop-color="#60ff9f"/><stop offset="0.5000" stop-color="#80ff80"/><stop offset="0.5312" stop-color="#9fff60"/><stop offset="0.5625" stop-color="#bfff40"/><stop offset="0.5938" stop-color="#dfff20"/><stop offset="0.6250" stop-color="#ffff00"/><stop offset="0.6562" stop-color="#ffdf00"/><stop offset="0.6875" stop-color="#ffbf00"/><stop offset="0.7188" stop-color="#ff9f00"/><stop offset="0.7500" stop-color="#ff8000"/><stop offset="0.7812" stop-color="#ff6000"/><stop offset="0.8125" stop-color="#ff4000"/><stop offset="0.8438" stop-color="#ff2000"/><stop offset="0.8750" stop-color="#ff0000"/><stop offset="0.9062" stop-color="#df0000"/><stop offset="0.9375" stop-color="#bf0000"/><stop offset="0.9688" stop-color="#9f0000"/><stop offset="1.0000" stop-color="#800000"/></linearGradient></defs>
<rect x="369.6" y="587.4" width="8.8" height="64.4" fill="url(#cb)"/>
<text x="380.3" y="590.2" font-family="Liberation Sans, Arial, sans-serif" font-size="8.5" fill="#111" stroke="#111" stroke-width="0.1">1</text>
<text x="380.1" y="654.1" font-family="Liberation Sans, Arial, sans-serif" font-size="8.5" fill="#111" stroke="#111" stroke-width="0.1">0</text>
</svg>
</body></html>
